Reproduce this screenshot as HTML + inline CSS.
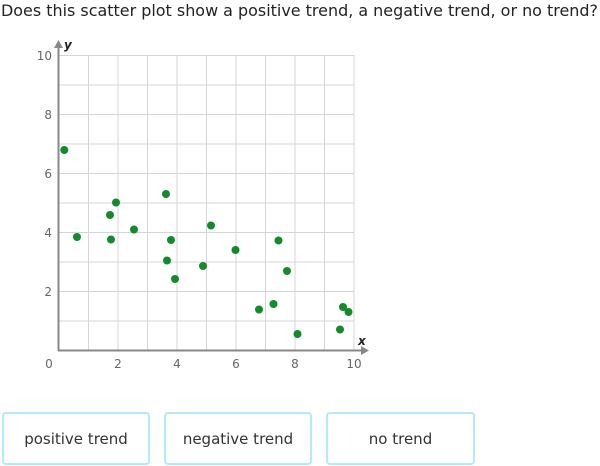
<!DOCTYPE html>
<html><head><meta charset="utf-8"><style>
body{margin:0;width:600px;height:466px;background:#fff;overflow:hidden;font-family:"DejaVu Sans","Liberation Sans",sans-serif;}
.b{position:absolute;top:412px;height:49px;border:2px solid #b4e8fb;border-radius:4px;box-sizing:content-box;font-size:15px;color:#333;display:flex;align-items:center;justify-content:center;background:#fff}
</style></head><body>
<svg width="600" height="466" style="position:absolute;left:0;top:0" font-family="DejaVu Sans, Liberation Sans, sans-serif">
<text x="1" y="16" font-size="16" fill="#222" textLength="597" lengthAdjust="spacingAndGlyphs">Does this scatter plot show a positive trend, a negative trend, or no trend?</text>
<g stroke="#d4d4d4" stroke-width="1">
<line x1="88.5" y1="55" x2="88.5" y2="351"/><line x1="118" y1="55" x2="118" y2="351"/><line x1="147.5" y1="55" x2="147.5" y2="351"/><line x1="177" y1="55" x2="177" y2="351"/><line x1="206.5" y1="55" x2="206.5" y2="351"/><line x1="236" y1="55" x2="236" y2="351"/><line x1="265.5" y1="55" x2="265.5" y2="351"/><line x1="295" y1="55" x2="295" y2="351"/><line x1="324.5" y1="55" x2="324.5" y2="351"/><line x1="354" y1="55" x2="354" y2="351"/>
<line x1="59" y1="55.5" x2="354" y2="55.5"/><line x1="59" y1="85" x2="354" y2="85"/><line x1="59" y1="114.5" x2="354" y2="114.5"/><line x1="59" y1="144" x2="354" y2="144"/><line x1="59" y1="173.5" x2="354" y2="173.5"/><line x1="59" y1="203" x2="354" y2="203"/><line x1="59" y1="232.5" x2="354" y2="232.5"/><line x1="59" y1="262" x2="354" y2="262"/><line x1="59" y1="291.5" x2="354" y2="291.5"/><line x1="59" y1="321" x2="354" y2="321"/>
</g>
<g stroke="#888" stroke-width="2" fill="none">
<line x1="58.5" y1="44" x2="58.5" y2="351"/><line x1="58" y1="350.5" x2="365" y2="350.5"/>
</g>
<polygon points="58.5,40 54,48 63,48" fill="#888"/>
<polygon points="369,350.5 361,346 361,355" fill="#888"/>
<text x="64" y="49" font-size="12" font-weight="bold" font-style="italic" fill="#222">y</text>
<text x="358" y="345" font-size="12" font-weight="bold" font-style="italic" fill="#222">x</text>
<g font-size="12" fill="#666" text-anchor="middle">
<text x="49" y="368">0</text><text x="118" y="368">2</text><text x="177" y="368">4</text><text x="236" y="368">6</text><text x="295" y="368">8</text><text x="354" y="368">10</text>
</g>
<g font-size="12" fill="#666" text-anchor="end">
<text x="52" y="60">10</text><text x="52" y="119">8</text><text x="52" y="178">6</text><text x="52" y="237">4</text><text x="52" y="296">2</text>
</g>
<g fill="#138a2b">
<circle cx="64.3" cy="150" r="4"/><circle cx="77" cy="237" r="4"/><circle cx="110" cy="215" r="4"/><circle cx="111" cy="239.5" r="4"/><circle cx="116" cy="202.5" r="4"/><circle cx="134" cy="229.5" r="4"/><circle cx="166" cy="194" r="4"/><circle cx="167" cy="260.5" r="4"/><circle cx="171" cy="240" r="4"/><circle cx="175" cy="279" r="4"/><circle cx="203" cy="266" r="4"/><circle cx="211" cy="225.5" r="4"/><circle cx="235.5" cy="250" r="4"/><circle cx="259" cy="309.5" r="4"/><circle cx="273.5" cy="304" r="4"/><circle cx="278.5" cy="240.5" r="4"/><circle cx="287" cy="271" r="4"/><circle cx="297.5" cy="334" r="4"/><circle cx="340" cy="329.5" r="4"/><circle cx="343" cy="307" r="4"/><circle cx="348.5" cy="312" r="4"/>
</g>
</svg>
<div class="b" style="left:2px;width:144px">positive trend</div>
<div class="b" style="left:164px;width:144px">negative trend</div>
<div class="b" style="left:326px;width:145px">no trend</div>
</body></html>
